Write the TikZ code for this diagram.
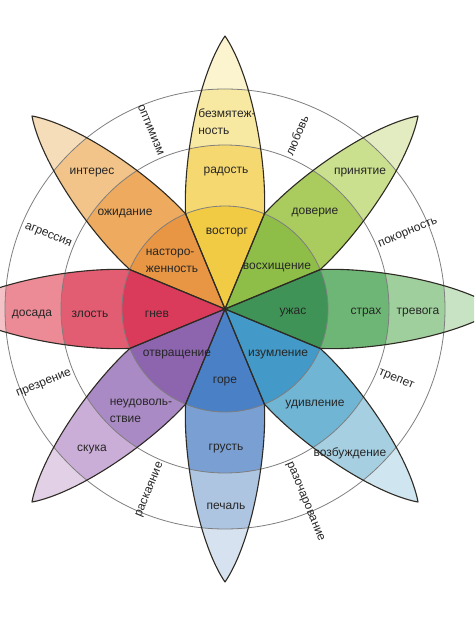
\documentclass[tikz,border=0pt]{standalone}
\usepackage{fontspec}
\setmainfont{Liberation Sans}

\definecolor{yel0}{HTML}{FBF4CF}
\definecolor{yel1}{HTML}{F8E9A2}
\definecolor{yel2}{HTML}{F5D970}
\definecolor{yel3}{HTML}{F2CB45}
\definecolor{lim0}{HTML}{E2ECC0}
\definecolor{lim1}{HTML}{CBE08F}
\definecolor{lim2}{HTML}{AACB5E}
\definecolor{lim3}{HTML}{8EBE48}
\definecolor{grn0}{HTML}{C7E3C4}
\definecolor{grn1}{HTML}{9FCF9C}
\definecolor{grn2}{HTML}{6DB675}
\definecolor{grn3}{HTML}{3F9356}
\definecolor{cya0}{HTML}{CFE5EF}
\definecolor{cya1}{HTML}{A6CFE1}
\definecolor{cya2}{HTML}{70B6D4}
\definecolor{cya3}{HTML}{4399C7}
\definecolor{blu0}{HTML}{D7E2F0}
\definecolor{blu1}{HTML}{AEC5E2}
\definecolor{blu2}{HTML}{7A9FD2}
\definecolor{blu3}{HTML}{4A80C6}
\definecolor{pur0}{HTML}{E2D0E7}
\definecolor{pur1}{HTML}{CBAED7}
\definecolor{pur2}{HTML}{AA8AC5}
\definecolor{pur3}{HTML}{8D65AF}
\definecolor{red0}{HTML}{F4C2C6}
\definecolor{red1}{HTML}{EC8A95}
\definecolor{red2}{HTML}{E25C72}
\definecolor{red3}{HTML}{DA3B5B}
\definecolor{org0}{HTML}{F6DDB9}
\definecolor{org1}{HTML}{F2C489}
\definecolor{org2}{HTML}{EEAA5E}
\definecolor{org3}{HTML}{E89643}
\definecolor{edgeline}{HTML}{2E2A24}
\definecolor{ringline}{HTML}{7E7E7E}
\definecolor{labeltext}{HTML}{262626}

\tikzset{
    petal/.style={draw=edgeline, line width=1.1pt, line join=round},
    ring/.style={draw=ringline, line width=0.8pt},
    emo/.style={font=\fontsize{12}{17}\selectfont, text=labeltext, inner sep=1pt},
    dyad/.style={emo, inner sep=0.5pt}
}

% one petal, clipped bands from the tip inwards
\newcommand{\petalfill}[5]{%
    \begin{scope}[rotate=#1]
        \clip (0,0) -- (95,39.4) .. controls (150,42) and (235,26) .. (273,0)
            .. controls (235,-26) and (150,-42) .. (95,-39.4) -- cycle;
        \fill[#2] (0,0) circle (280);
        \fill[#3] (0,0) circle (220);
        \fill[#4] (0,0) circle (164);
        \fill[#5] (0,0) circle (103);
    \end{scope}}
\newcommand{\petaledge}[1]{%
    \draw[petal, rotate=#1] (0,0) -- (95,39.4) .. controls (150,42) and (235,26) .. (273,0)
        .. controls (235,-26) and (150,-42) .. (95,-39.4) -- cycle;}

\begin{document}
\begin{tikzpicture}[x=1pt, y=1pt]
    \useasboundingbox (-225,-312) rectangle (249,309);
    \clip (-225,-312) rectangle (249,309);

    \petalfill{90}{yel0}{yel1}{yel2}{yel3}
    \petalfill{45}{lim0}{lim1}{lim2}{lim3}
    \petalfill{0}{grn0}{grn1}{grn2}{grn3}
    \petalfill{-45}{cya0}{cya1}{cya2}{cya3}
    \petalfill{-90}{blu0}{blu1}{blu2}{blu3}
    \petalfill{-135}{pur0}{pur1}{pur2}{pur3}
    \petalfill{180}{red0}{red1}{red2}{red3}
    \petalfill{135}{org0}{org1}{org2}{org3}

    \draw[ring] (0,0) circle (103);
    \draw[ring] (0,0) circle (164);
    \draw[ring] (0,0) circle (220);

    \petaledge{90}
    \petaledge{45}
    \petaledge{0}
    \petaledge{-45}
    \petaledge{-90}
    \petaledge{-135}
    \petaledge{180}
    \petaledge{135}

    % inner ring
    \node[emo] (vostorg) at (2,76) {восторг};
    \node[emo] (voshish) at (52,42) {восхищение};
    \node[emo] (uzhas) at (68,-4) {ужас};
    \node[emo] (izuml) at (53,-46) {изумление};
    \node[emo] (gore) at (0,-73) {горе};
    \node[emo] (otvr) at (-48,-46) {отвращение};
    \node[emo] (gnev) at (-68,-5) {гнев};
    \node[emo, align=left] (nastor) at (-53,48) {насторо-\\женность};

    % middle ring
    \node[emo] (radost) at (1,137) {радость};
    \node[emo] (doverie) at (90,96) {доверие};
    \node[emo] (strah) at (141,-4) {страх};
    \node[emo] (udivl) at (90,-96) {удивление};
    \node[emo] (grust) at (1,-140) {грусть};
    \node[emo, align=left] (neudov) at (-84,-102) {неудоволь-\\ствие};
    \node[emo] (zlost) at (-135,-5) {злость};
    \node[emo] (ozhid) at (-100,96) {ожидание};

    % outer ring
    \node[emo, align=left] (bezm) at (2,187) {безмятеж-\\ность};
    \node[emo] (prin) at (135,136) {принятие};
    \node[emo] (trev) at (193,-4) {тревога};
    \node[emo] (vozb) at (125,-144) {возбуждение};
    \node[emo] (pechal) at (1,-197) {печаль};
    \node[emo] (skuka) at (-133,-141) {скука};
    \node[emo] (dosada) at (-193,-5) {досада};
    \node[emo] (interes) at (-133,136) {интерес};

    % dyads in the gaps
    \node[dyad, rotate=-67.5, anchor=east] (optim) at (112.5:166) {оптимизм};
    \node[dyad, rotate=67.5, anchor=west] (lubov) at (67.5:166) {любовь};
    \node[dyad, rotate=22.5, anchor=west] (pokorn) at (22.5:166) {покорность};
    \node[dyad, rotate=-22.5, anchor=west] (trepet) at (-22.5:166) {трепет};
    \node[dyad, rotate=-67.5, anchor=west] (razoch) at (-67.5:166) {разочарование};
    \node[dyad, rotate=67.5, anchor=east] (raskay) at (247.5:166) {раскаяние};
    \node[dyad, rotate=22.5, anchor=east] (prezr) at (202.5:166) {презрение};
    \node[dyad, rotate=-22.5, anchor=east] (agress) at (157.5:166) {агрессия};
\end{tikzpicture}
\end{document}
